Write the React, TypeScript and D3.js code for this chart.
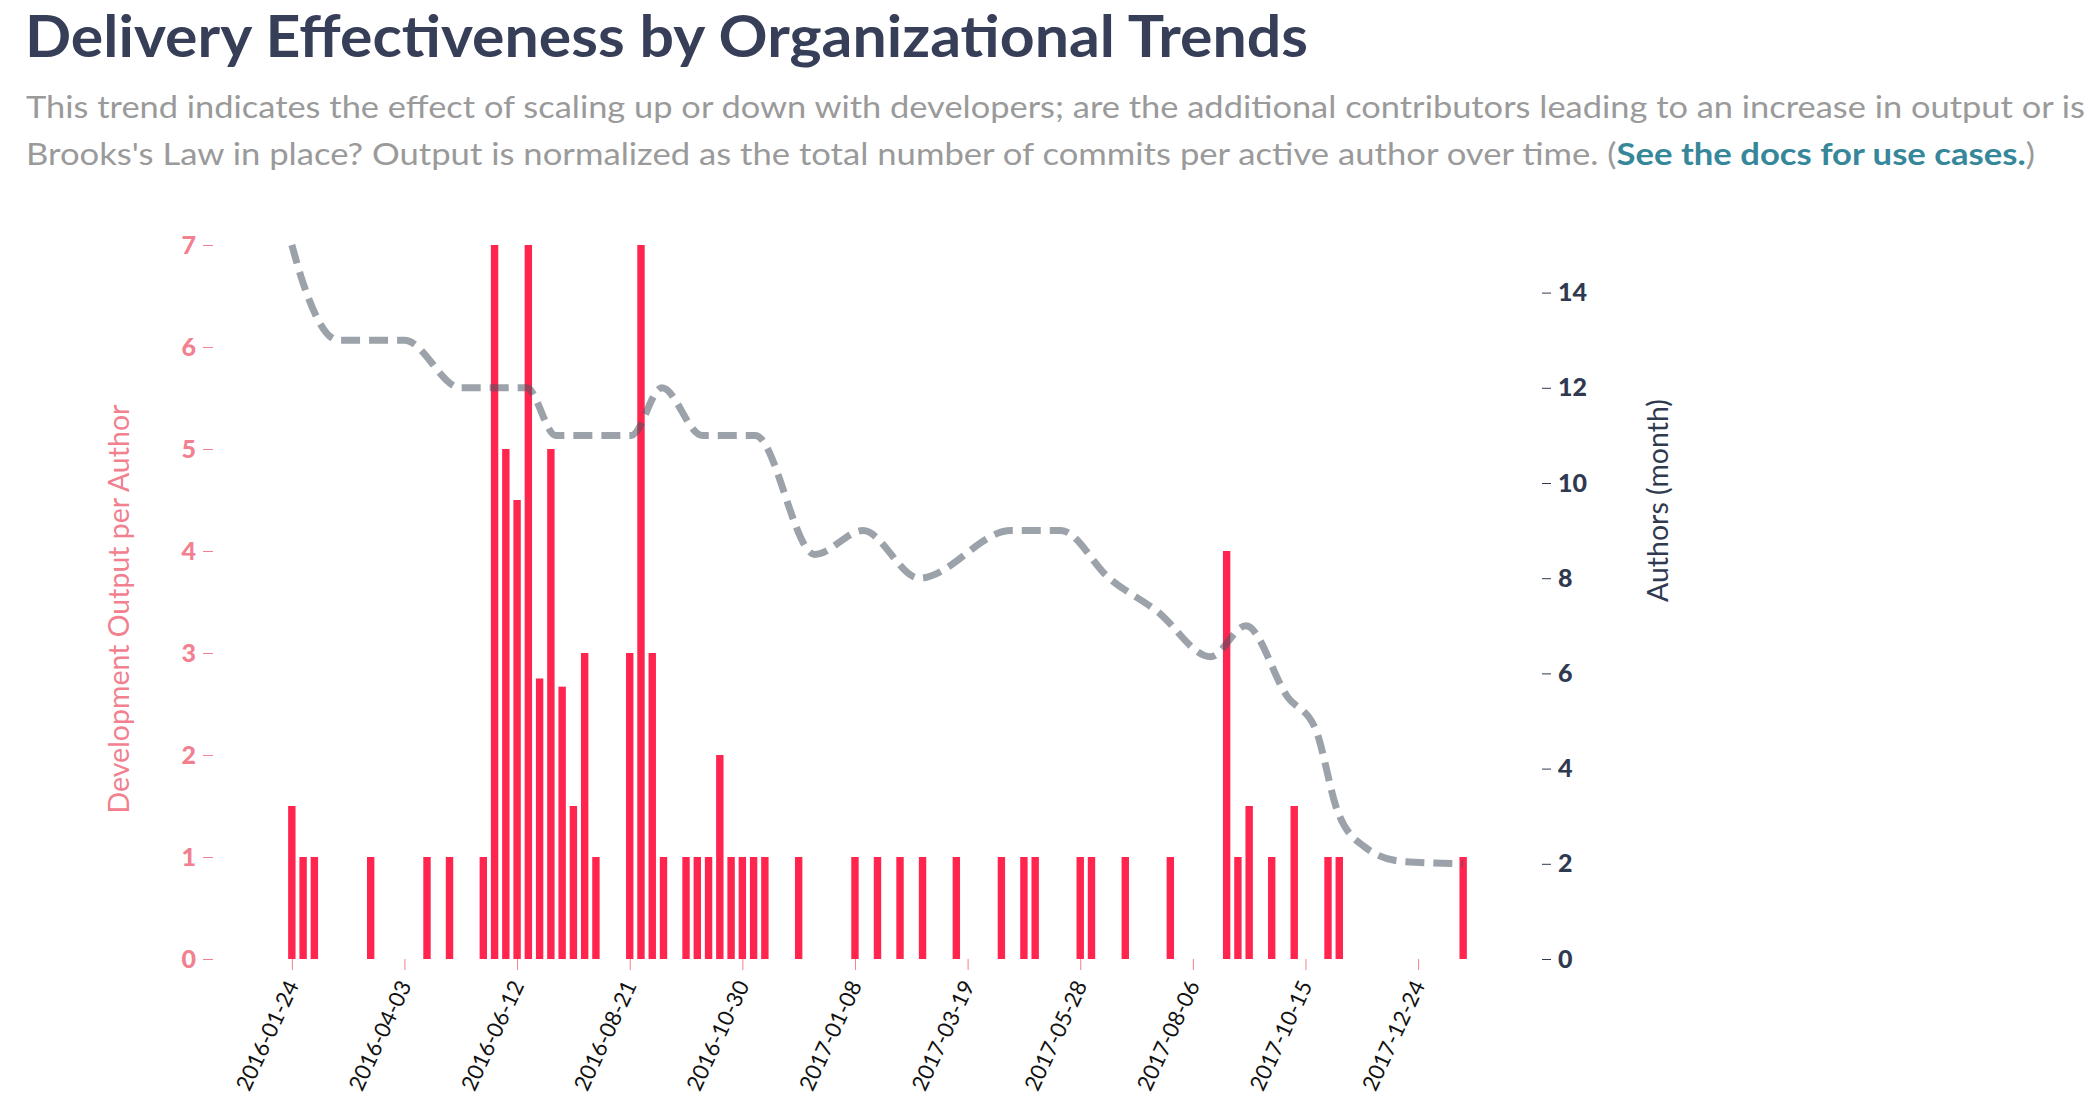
import React, { useEffect, useRef } from 'react';
import * as d3 from 'd3';

const barDates = [
  '2016-01-24', '2016-01-31', '2016-02-07', '2016-03-13', '2016-04-17', '2016-05-01', '2016-05-22',
  '2016-05-29', '2016-06-05', '2016-06-12', '2016-06-19', '2016-06-26', '2016-07-03', '2016-07-10',
  '2016-07-17', '2016-07-24', '2016-07-31', '2016-08-21', '2016-08-28', '2016-09-04', '2016-09-11',
  '2016-09-25', '2016-10-02', '2016-10-09', '2016-10-16', '2016-10-23', '2016-10-30', '2016-11-06',
  '2016-11-13', '2016-12-04', '2017-01-08', '2017-01-22', '2017-02-05', '2017-02-19', '2017-03-12',
  '2017-04-09', '2017-04-23', '2017-04-30', '2017-05-28', '2017-06-04', '2017-06-25', '2017-07-23',
  '2017-08-27', '2017-09-03', '2017-09-10', '2017-09-24', '2017-10-08', '2017-10-29', '2017-11-05',
  '2018-01-21',
];
const barValues = [
  1.5, 1, 1, 1, 1, 1, 1,
  7, 5, 4.5, 7, 2.75, 5, 2.67, 1.5, 3, 1,
  3, 7, 3, 1,
  1, 1, 1, 2, 1, 1, 1, 1,
  1, 1, 1, 1, 1, 1, 1, 1, 1, 1, 1, 1, 1,
  4, 1, 1.5, 1, 1.5, 1, 1, 1,
];

const authorDates = [
  '2016-01-24', '2016-01-31', '2016-02-22', '2016-04-03', '2016-05-08', '2016-06-18', '2016-07-06', '2016-08-22',
  '2016-09-10', '2016-10-05', '2016-11-07', '2016-12-14', '2017-01-13', '2017-02-17', '2017-04-15',
  '2017-05-16', '2017-06-15', '2017-07-15', '2017-08-17', '2017-09-08', '2017-10-04', '2017-10-21',
  '2017-11-04', '2017-11-21', '2017-12-14', '2018-01-21',
];
const authorValues = [
  15, 14.2, 13, 13, 12, 12, 11, 11,
  12, 11, 11, 8.5, 9, 8, 9,
  9, 8, 7.3, 6.35, 7, 5.5, 4.85,
  3.1, 2.35, 2.05, 2,
];

const xTickDates = [
  '2016-01-24', '2016-04-03', '2016-06-12', '2016-08-21', '2016-10-30', '2017-01-08',
  '2017-03-19', '2017-05-28', '2017-08-06', '2017-10-15', '2017-12-24',
];
const leftTicks = [0, 1, 2, 3, 4, 5, 6, 7];
const rightTicks = [0, 2, 4, 6, 8, 10, 12, 14];

const FONT = "Lato, 'Open Sans', sans-serif";

export default function App() {
  const svgRef = useRef<SVGSVGElement | null>(null);

  useEffect(() => {
    if (!svgRef.current) return;
    const svg = d3.select(svgRef.current);
    svg.selectAll('*').remove();

    const parse = d3.timeParse('%Y-%m-%d');
    const top = 245;
    const bottom = 959;

    const x = d3.scaleTime()
      .domain([parse('2015-12-06')!, parse('2018-03-11')!])
      .range([213, 1542]);
    const yLeft = d3.scaleLinear().domain([0, 7]).range([bottom, top]);
    const yRight = d3.scaleLinear().domain([0, 15]).range([bottom, top]);

    // header
    svg.append('text')
      .attr('x', 25).attr('y', 57)
      .attr('font-family', FONT).attr('font-weight', 700).attr('font-size', 57)
      .attr('fill', '#363f57')
      .attr('textLength', 1283).attr('lengthAdjust', 'spacingAndGlyphs')
      .text('Delivery Effectiveness by Organizational Trends');

    svg.append('text')
      .attr('x', 26).attr('y', 118)
      .attr('font-family', FONT).attr('font-size', 31).attr('fill', '#9a9a9a')
      .attr('textLength', 2059).attr('lengthAdjust', 'spacingAndGlyphs')
      .text('This trend indicates the effect of scaling up or down with developers; are the additional contributors leading to an increase in output or is');

    const line2 = svg.append('text')
      .attr('x', 26).attr('y', 165)
      .attr('font-family', FONT).attr('font-size', 31).attr('fill', '#9a9a9a')
      .attr('textLength', 2009).attr('lengthAdjust', 'spacingAndGlyphs');
    line2.append('tspan').text("Brooks's Law in place? Output is normalized as the total number of commits per active author over time. (");
    line2.append('tspan').attr('font-weight', 700).attr('fill', '#37879a').text('See the docs for use cases.');
    line2.append('tspan').text(')');

    // bars
    const bars = barDates.map((d, i) => ({ date: parse(d)!, value: barValues[i] }));
    const barW = 7.4;
    svg.append('g')
      .selectAll('rect')
      .data(bars)
      .join('rect')
      .attr('x', d => x(d.date) - barW / 2)
      .attr('y', d => yLeft(d.value))
      .attr('width', barW)
      .attr('height', d => bottom - yLeft(d.value))
      .attr('fill', '#ff254f');

    // authors line
    const authors = authorDates.map((d, i) => ({ date: parse(d)!, value: authorValues[i] }));
    const line = d3.line<{ date: Date; value: number }>()
      .x(d => x(d.date))
      .y(d => yRight(d.value))
      .curve(d3.curveMonotoneX);
    svg.append('path')
      .datum(authors)
      .attr('d', line)
      .attr('fill', 'none')
      .attr('stroke', '#4b5563')
      .attr('stroke-opacity', 0.55)
      .attr('stroke-width', 7)
      .attr('stroke-dasharray', '19 9');

    // left axis
    const leftColor = '#f2808f';
    const gl = svg.append('g')
      .attr('transform', 'translate(213,0)')
      .call(d3.axisLeft(yLeft).tickValues(leftTicks).tickFormat(d3.format('d') as any).tickSize(10).tickPadding(7));
    gl.select('.domain').remove();
    gl.selectAll('line').attr('stroke', leftColor);
    gl.selectAll('text')
      .attr('fill', leftColor).attr('font-family', FONT).attr('font-weight', 900).attr('font-size', 25);

    svg.append('text')
      .attr('transform', 'translate(129,609) rotate(-90)')
      .attr('text-anchor', 'middle')
      .attr('font-family', FONT).attr('font-size', 28.5).attr('fill', leftColor)
      .text('Development Output per Author');

    // right axis
    const rightColor = '#2f3a50';
    const gr = svg.append('g')
      .attr('transform', 'translate(1542,0)')
      .call(d3.axisRight(yRight).tickValues(rightTicks).tickSize(9).tickPadding(7));
    gr.select('.domain').remove();
    gr.selectAll('line').attr('stroke', rightColor);
    gr.selectAll('text')
      .attr('fill', rightColor).attr('font-family', FONT).attr('font-weight', 900).attr('font-size', 25);

    svg.append('text')
      .attr('transform', 'translate(1668,602) rotate(-90)')
      .attr('text-anchor', 'start')
      .attr('font-family', FONT).attr('font-size', 28.5).attr('fill', rightColor)
      .text('Authors (month)');

    // x axis
    const gx = svg.append('g')
      .attr('transform', `translate(0,${bottom})`)
      .call(
        d3.axisBottom(x)
          .tickValues(xTickDates.map(d => parse(d)!))
          .tickFormat(d3.timeFormat('%Y-%m-%d') as any)
          .tickSize(11)
      );
    gx.select('.domain').remove();
    gx.selectAll('line').attr('stroke', leftColor);
    gx.selectAll('text')
      .attr('x', 0).attr('y', 0).attr('dy', '0.35em')
      .attr('transform', 'translate(0,23) rotate(-65)')
      .attr('text-anchor', 'end')
      .attr('fill', '#111').attr('font-family', FONT).attr('font-size', 22);
  }, []);

  return (
    <div style={{ position: 'absolute', left: 0, top: 0, background: '#fff' }}>
      <svg ref={svgRef} width={2088} height={1114} style={{ display: 'block' }}></svg>
    </div>
  );
}
